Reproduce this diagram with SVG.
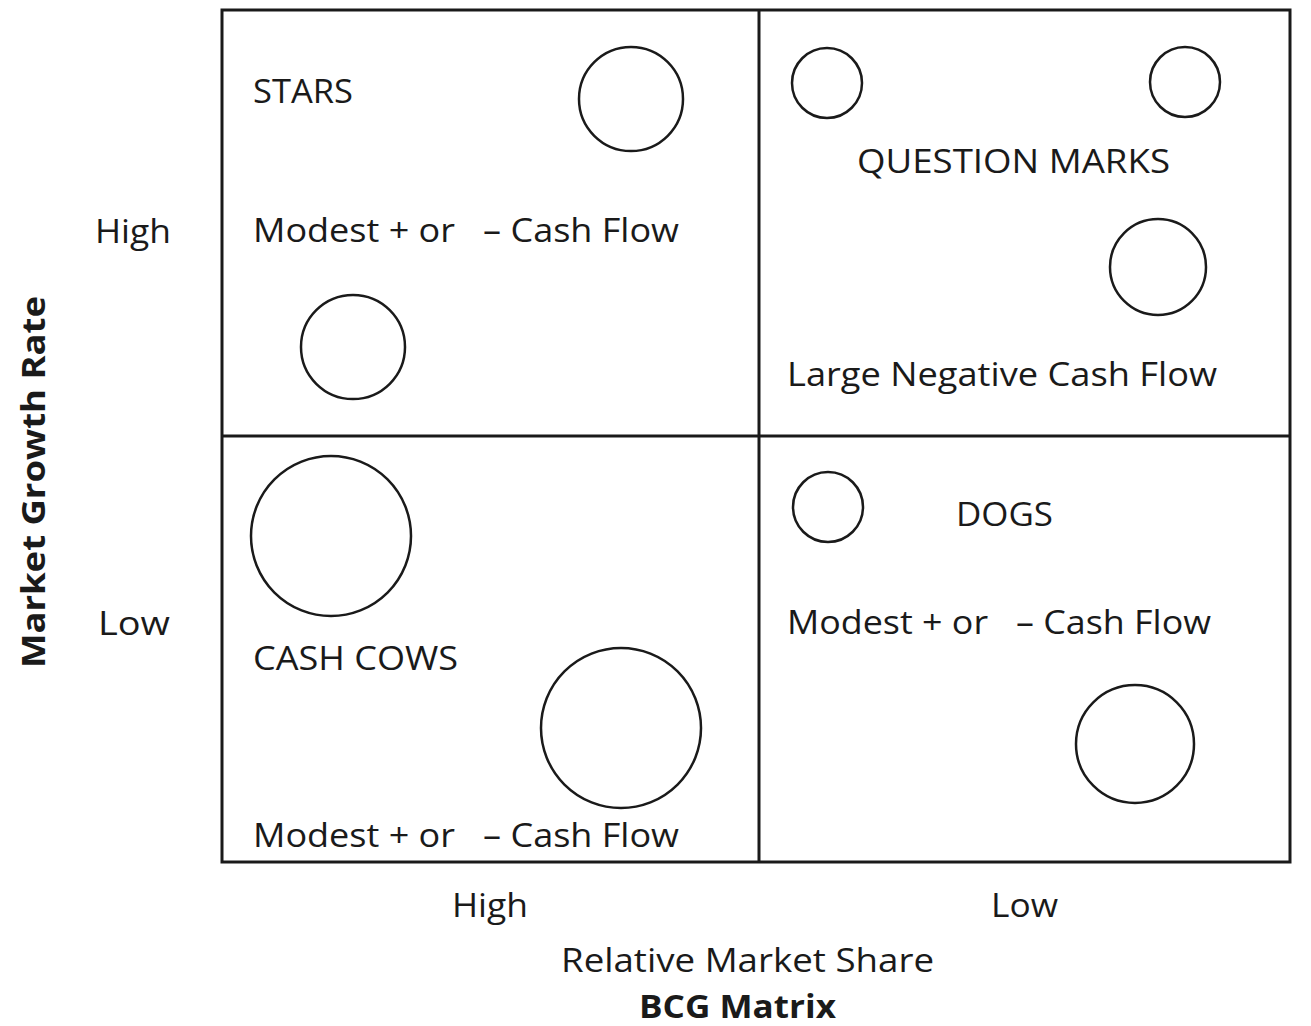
<svg xmlns="http://www.w3.org/2000/svg" width="1311" height="1026" viewBox="0 0 1311 1026">
<style>
text{font-family:"Open Sans","Liberation Sans",sans-serif;font-size:33px;fill:#1a1a1a;white-space:pre}
.b{font-weight:bold}
.grid line,.grid rect{stroke:#1a1a1a;stroke-width:3;fill:none}
circle{fill:none;stroke:#1a1a1a;stroke-width:2.5}
</style>
<rect width="1311" height="1026" fill="#fff"/>
<g id="grid" class="grid">
<rect x="222" y="10" width="1068" height="852"/>
<line x1="759" y1="10" x2="759" y2="862"/>
<line x1="222" y1="436" x2="1290" y2="436"/>
</g>
<g id="stars">
<text x="253" y="103" textLength="100" lengthAdjust="spacingAndGlyphs">STARS</text>
<text x="253" y="242" textLength="426" lengthAdjust="spacingAndGlyphs">Modest + or   – Cash Flow</text>
<circle cx="631" cy="99" r="52"/>
<circle cx="353" cy="347" r="52"/>
</g>
<g id="question-marks">
<text x="857" y="173" textLength="313" lengthAdjust="spacingAndGlyphs">QUESTION MARKS</text>
<text x="787" y="386" textLength="430" lengthAdjust="spacingAndGlyphs">Large Negative Cash Flow</text>
<circle cx="827" cy="83" r="35"/>
<circle cx="1185" cy="82" r="35"/>
<circle cx="1158" cy="267" r="48"/>
</g>
<g id="cash-cows">
<text x="253" y="670" textLength="205" lengthAdjust="spacingAndGlyphs">CASH COWS</text>
<text x="253" y="847" textLength="426" lengthAdjust="spacingAndGlyphs">Modest + or   – Cash Flow</text>
<circle cx="331" cy="536" r="80"/>
<circle cx="621" cy="728" r="80"/>
</g>
<g id="dogs">
<text x="956" y="526" textLength="97" lengthAdjust="spacingAndGlyphs">DOGS</text>
<text x="787" y="634" textLength="424" lengthAdjust="spacingAndGlyphs">Modest + or   – Cash Flow</text>
<circle cx="828" cy="507" r="35"/>
<circle cx="1135" cy="744" r="59"/>
</g>
<g id="axes">
<text x="95" y="243" textLength="76" lengthAdjust="spacingAndGlyphs">High</text>
<text x="98" y="635" textLength="72" lengthAdjust="spacingAndGlyphs">Low</text>
<text x="452" y="917" textLength="76" lengthAdjust="spacingAndGlyphs">High</text>
<text x="991" y="917" textLength="67" lengthAdjust="spacingAndGlyphs">Low</text>
<text x="561" y="972" textLength="373" lengthAdjust="spacingAndGlyphs">Relative Market Share</text>
<text class="b" x="639" y="1018" textLength="197" lengthAdjust="spacingAndGlyphs">BCG Matrix</text>
<text class="b" transform="translate(45,668) rotate(-90)" textLength="372" lengthAdjust="spacingAndGlyphs">Market Growth Rate</text>
</g>
</svg>
